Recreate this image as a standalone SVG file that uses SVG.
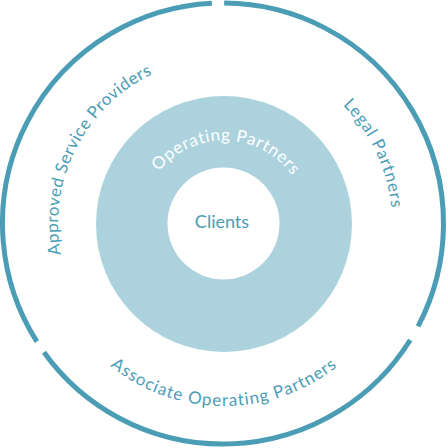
<svg xmlns="http://www.w3.org/2000/svg" width="448" height="448" viewBox="0 0 448 448">
<style>
  .ring { fill: none; stroke: #4b9db5; stroke-width: 5; }
  .lbl { font-family: Lato, "Open Sans", sans-serif; font-size: 17px; letter-spacing: 1px; fill: #4b9db5; }
  .lbl-w { font-family: Lato, "Open Sans", sans-serif; font-size: 17px; letter-spacing: 0.7px; fill: #ffffff; }
  .center { font-family: Lato, "Open Sans", sans-serif; font-size: 18px; fill: #4b9db5; }
</style>
<defs>
  <path id="pOp" d="M 140.5,224 A 83.5 83.5 0 0 1 307.5,224"/>
  <path id="pAsp" d="M 224,390 A 166 166 0 0 1 224,58"/>
  <path id="pLeg" d="M 224,56 A 168 168 0 0 1 224,392"/>
  <path id="pAop" d="M 42,224 A 182 182 0 0 0 406,224"/>
</defs>
<rect width="448" height="448" fill="#ffffff"/>
<g id="outer-ring">
  <path class="ring" d="M 224.15,3.0 A 220.5 220.5 0 0 1 418.05,326.34"/>
  <path class="ring" d="M 410.20,340.02 A 220.5 220.5 0 0 1 43.94,352.17"/>
  <path class="ring" d="M 36.83,341.65 A 220.5 220.5 0 0 1 211.84,3.28"/>
</g>
<g id="operating-partners">
  <circle cx="224" cy="224" r="128" fill="#acd2dd"/>
  <text class="lbl-w"><textPath href="#pOp" startOffset="51%" text-anchor="middle">Operating Partners</textPath></text>
</g>
<g id="clients">
  <circle cx="223.5" cy="223.5" r="56" fill="#ffffff"/>
  <text x="222" y="228" class="center" text-anchor="middle">Clients</text>
</g>
<g id="approved-service-providers">
  <text class="lbl" style="letter-spacing:0.45px"><textPath href="#pAsp" startOffset="65%" text-anchor="middle">Approved Service Providers</textPath></text>
</g>
<g id="legal-partners">
  <text class="lbl" style="letter-spacing:0.8px"><textPath href="#pLeg" startOffset="36%" text-anchor="middle">Legal Partners</textPath></text>
</g>
<g id="associate-operating-partners">
  <text class="lbl"><textPath href="#pAop" startOffset="50%" text-anchor="middle">Associate Operating Partners</textPath></text>
</g>
</svg>
